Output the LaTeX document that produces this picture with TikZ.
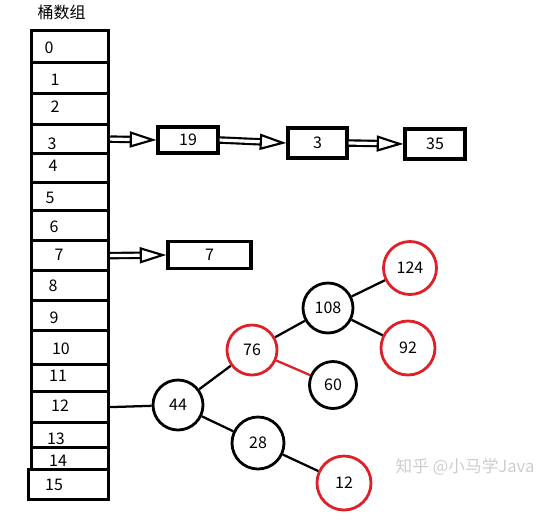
\documentclass[tikz,border=0pt]{standalone}
\usepackage{fontspec}
\setmainfont{Noto Sans CJK SC}
\usetikzlibrary{arrows.meta, positioning}
\definecolor{myred}{RGB}{222,32,40}
\definecolor{mygray}{RGB}{205,205,205}
\tikzset{font=\fontsize{12}{14}\selectfont}

\begin{document}
\begin{tikzpicture}[
  x=0.75pt, y=-0.75pt,
  cell/.style={
    draw,
    rectangle,
    line width=2.4pt,
    inner sep=0pt,
    anchor=north west
  },
  box/.style 2 args={
    draw,
    rectangle,
    line width=2.4pt,
    minimum width=#1*0.75pt,
    minimum height=#2*0.75pt
  },
  dot/.style={
    circle,
    draw=#1,
    line width=2.1pt,
    minimum size=50*0.75pt,
    inner sep=0pt
  },
  dbl/.style={
    double,
    double distance=2.4pt,
    line width=1.6pt,
    -{Triangle[open, length=20pt, width=12pt, line width=1.6pt]}
  },
  link/.style={
    line width=1.7pt,
    #1
  }
]
\useasboundingbox (0,0) rectangle (550,522);

%the bucket array
\node[anchor=west] (title) at (33,12) {桶数组};
\foreach \i/\t/\b/\lx/\ly in {0/29/61/49/48, 1/61/92/55/80, 2/92/123/55/107,
  3/123/152/52/144, 4/152/181/53/166, 5/181/209/50/198, 6/209/239/54/227,
  7/239/269/59/255, 8/269/299/53/286, 9/299/329/54/318, 10/329/363/61/349,
  11/363/390/58/376, 12/390/421/60/406, 13/421/446/56/439, 14/446/468/58/461}
{
  \node[cell, minimum width=77*0.75pt, minimum height={(\b-\t)*0.75pt}] (c\i) at (30,\t) {};
  \node (l\i) at (\lx,\ly) {\i};
}
\node[cell, minimum width=80*0.75pt, minimum height=30*0.75pt] (c15) at (27,468) {};
\node (l15) at (54,485) {15};

%the lists
\node[box={60}{26}] (n19) at (188,140) {19};
\node[box={59}{30}] (n3) at (317.5,143) {3};
\node[box={60}{30}] (n35) at (435,144) {35};
\node[box={83}{27}] (n7) at (209.5,255) {7};

\draw[dbl] (c3.east) -- (n19.west);
\draw[dbl] (n19.east) -- (n3.west);
\draw[dbl] (n3.east) -- (n35.west);
\draw[dbl] (c7.east) -- (n7.west);

%the tree
\node[dot=black] (t44) at (178,405) {44};
\node[dot=myred] (t76) at (252,350) {76};
\node[dot=black] (t108) at (328,308) {108};
\node[dot=myred, minimum size=53*0.75pt] (t124) at (410,268) {124};
\node[dot=myred, minimum size=54*0.75pt] (t92) at (408,348) {92};
\node[dot=black, minimum size=47*0.75pt] (t60) at (333,385) {60};
\node[dot=black, minimum size=52*0.75pt] (t28) at (258,443) {28};
\node[dot=myred, minimum size=54*0.75pt] (t12) at (344,483) {12};

\draw[link] (c12.east) -- (t44);
\draw[link] (t44) -- (t76);
\draw[link] (t76) -- (t108);
\draw[link] (t108) -- (t124);
\draw[link] (t108) -- (t92);
\draw[link=myred] (t76) -- (t60);
\draw[link] (t44) -- (t28);
\draw[link] (t28) -- (t12);

%the watermark
\node[text=mygray, font=\fontsize{12.5}{14}\selectfont] (mark) at (465,467) {知乎 @小马学Java};
\end{tikzpicture}
\end{document}
